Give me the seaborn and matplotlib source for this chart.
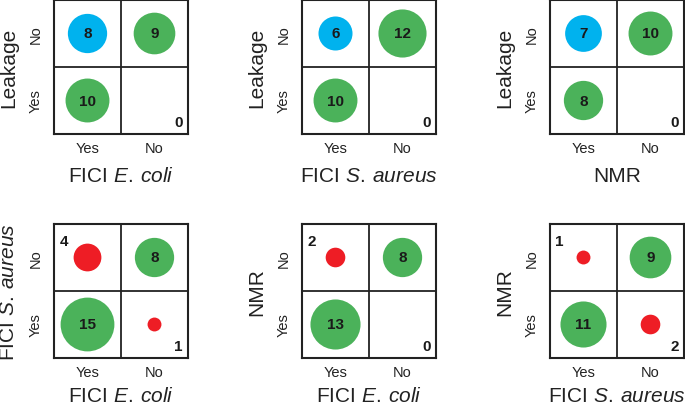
import pandas as pd
import matplotlib.pyplot as plt
import seaborn as sns

# categories of every 2x2 table (cell order: top-left, top-right, bottom-left, bottom-right)
cats = ['Yes', 'No']
cell_x = ['Yes', 'No', 'Yes', 'No']
cell_y = ['No', 'No', 'Yes', 'Yes']

ecoli = 'FICI $\\mathit{E.\\:coli}$'
saureus = 'FICI $\\mathit{S.\\:aureus}$'
x_labels = [ecoli, saureus, 'NMR', ecoli, ecoli, saureus]
y_labels = ['Leakage', 'Leakage', 'Leakage', saureus, 'NMR', 'NMR']

counts = [
    [8, 9, 10, 0],
    [6, 12, 10, 0],
    [7, 10, 8, 0],
    [4, 8, 15, 1],
    [2, 8, 13, 0],
    [1, 9, 11, 2],
]
kinds = [
    ['blue', 'green', 'green', 'empty'],
    ['blue', 'green', 'green', 'empty'],
    ['blue', 'green', 'green', 'empty'],
    ['red', 'green', 'green', 'red'],
    ['red', 'green', 'green', 'empty'],
    ['red', 'green', 'green', 'red'],
]

palette = {'blue': '#00B2EE', 'green': '#4BB25A', 'red': '#EE1D25'}

sns.set_theme(style='white')
plt.rcParams['font.family'] = ['Liberation Sans', 'DejaVu Sans']
plt.rcParams['mathtext.fontset'] = 'custom'
plt.rcParams['mathtext.rm'] = 'Liberation Sans'
plt.rcParams['mathtext.it'] = 'Liberation Sans:italic'

fig = plt.figure(figsize=(6.85, 4.06), dpi=100)
lefts = [54, 302, 550]
tops = [1, 225]
W, H = 685, 406
box = 134

for i in range(6):
    r, c = divmod(i, 3)
    ax = fig.add_axes([lefts[c] / W, 1 - (tops[r] + box) / H, box / W, box / H])
    df = pd.DataFrame({'x': [cats.index(v) for v in cell_x],
                       'y': [cats.index(v) for v in cell_y],
                       'n': counts[i], 'kind': kinds[i]})
    dots = df[df['n'] > 0]
    sns.scatterplot(data=dots, x='x', y='y', hue='kind', palette=palette,
                    size='n', sizes={n: 100 * n for n in dots['n'].unique()},
                    linewidth=0, legend=False, ax=ax)
    for _, row in df.iterrows():
        if row['kind'] in ('blue', 'green'):
            ax.text(row['x'], row['y'], str(row['n']), ha='center', va='center',
                    fontsize=11, fontweight='bold', color='#1a1a1a')
        else:
            dx = -1 if row['x'] == 0 else 1
            dy = -1 if row['y'] == 0 else 1
            tx = row['x'] + dx * 0.42
            ty = row['y'] + dy * (0.35 if dy > 0 else 0.42)
            ax.text(tx, ty, str(row['n']), ha='left' if dx < 0 else 'right',
                    va='top' if dy > 0 else 'bottom',
                    fontsize=11, fontweight='bold', color='#1a1a1a')
    ax.axvline(0.5, color='#222222', lw=1.3)
    ax.axhline(0.5, color='#222222', lw=1.3)
    ax.set_xlim(-0.5, 1.5)
    ax.set_ylim(-0.5, 1.5)
    ax.set_xticks([0, 1])
    ax.set_xticklabels(cats)
    ax.set_yticks([0, 1])
    ax.set_yticklabels(cats, rotation=90, va='center')
    ax.tick_params(length=0, labelsize=10.5, labelcolor='#222222')
    ax.tick_params(axis='x', pad=5)
    ax.tick_params(axis='y', pad=8)
    ax.set_xlabel(x_labels[i], fontsize=15, color='#222222',
                  labelpad=8 if r == 0 else 5)
    ax.set_ylabel(y_labels[i], fontsize=15, color='#222222', labelpad=8)
    for s in ax.spines.values():
        s.set_color('#222222')
        s.set_linewidth(1.5)
        s.set_visible(True)

fig.savefig('out.png', dpi=100)
